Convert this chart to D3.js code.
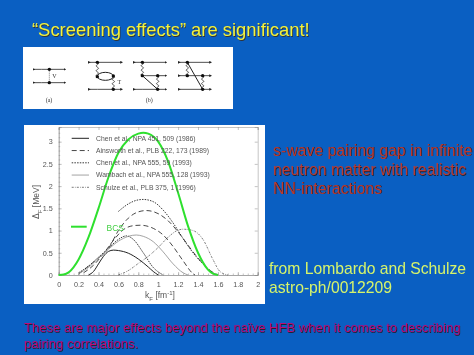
<!DOCTYPE html>
<html>
<head>
<meta charset="utf-8">
<script src="https://cdn.jsdelivr.net/npm/d3@7"></script>
<style>
html, body { margin: 0; padding: 0; background: #0a5fc2; overflow: hidden; }
svg { display: block; font-family: "Liberation Sans", Arial, sans-serif; }
</style>
</head>
<body>
<div id="chart"></div>
<script>
// Slide with a pairing-gap plot
const xTicks = [0, 0.2, 0.4, 0.6, 0.8, 1, 1.2, 1.4, 1.6, 1.8, 2];
const yTicks = [0, 0.5, 1, 1.5, 2, 2.5, 3];

const legendLabels = [
    'Chen et al., NPA 451, 509 (1986)',
    'Ainsworth et al., PLB 222, 173 (1989)',
    'Chen et al., NPA 555, 59 (1993)',
    'Wambach et al., NPA 555, 128 (1993)',
    'Schulze et al., PLB 375, 1 (1996)'
];

const bcs = [[0,0],[0.05,0.01],[0.1,0.06],[0.2,0.35],[0.3,0.85],[0.4,1.5],[0.5,2.2],[0.6,2.75],[0.7,3.05],[0.8,3.18],[0.85,3.2],[0.9,3.18],[1,3],[1.1,2.55],[1.2,1.85],[1.3,1.1],[1.4,0.5],[1.5,0.12],[1.55,0.03],[1.6,0]];
const chen86 = [[0.3,0],[0.35,0.08],[0.4,0.25],[0.45,0.42],[0.5,0.53],[0.55,0.56],[0.6,0.55],[0.7,0.49],[0.8,0.36],[0.9,0.18],[0.95,0.08],[1,0]];
const ainsworthA = [[0.2,0.02],[0.3,0.2],[0.4,0.38],[0.5,0.6],[0.6,1],[0.7,1.28],[0.8,1.42],[0.88,1.45],[1,1.38],[1.1,1.22],[1.2,0.97],[1.3,0.67],[1.4,0.38],[1.5,0.14],[1.6,0]];
const ainsworthB = [[0.25,0.05],[0.35,0.22],[0.45,0.48],[0.55,0.78],[0.65,1.02],[0.75,1.11],[0.82,1.12],[0.95,1.05],[1.05,0.9],[1.15,0.64],[1.25,0.32],[1.35,0.03],[1.37,0]];
const chen93 = [[0.6,1.43],[0.7,1.6],[0.8,1.69],[0.85,1.7],[0.95,1.65],[1.05,1.46],[1.15,1.17],[1.25,0.82],[1.35,0.5],[1.45,0.25],[1.55,0.05],[1.6,0]];
const chen93Small = [[0.2,0.05],[0.3,0.2],[0.4,0.4],[0.5,0.6],[0.6,0.8],[0.68,0.88],[0.75,0.8],[0.85,0.5],[0.95,0.17],[1.05,0]];
const wambach = [[0.2,0.03],[0.3,0.17],[0.4,0.38],[0.5,0.58],[0.6,0.76],[0.7,0.87],[0.78,0.9],[0.85,0.87],[0.95,0.75],[1.05,0.52],[1.15,0.25],[1.25,0.05],[1.3,0]];
const schulze = [[0.6,0],[0.7,0.1],[0.8,0.26],[0.9,0.42],[1,0.62],[1.1,0.85],[1.2,1.01],[1.25,1.03],[1.35,1],[1.45,0.8],[1.55,0.35],[1.62,0.08],[1.7,0]];

// Feynman diagrams, in units of the crop they were read from
const arrowLines = [[42,88,135,88],[42,128,135,128],[208,67,305,67],[208,148,305,148],[343,67,438,67],[367,107,438,107],[343,148,438,148],[478,67,572,67],[478,107,572,107],[478,148,572,148]];
const wavyLines = [[232,67,232,110],[280,108,280,148],[367,67,367,107],[413,107,413,148],[502,67,502,107],[548,107,548,148]];
const plainLines = [[367,107,413,148],[502,67,548,148]];
const vertices = [[88,88],[88,128],[232,67],[232,110],[280,108],[280,148],[367,67],[367,107],[413,107],[413,148],[502,67],[502,107],[548,107],[548,148]];

const width = 474, height = 355;
const svg = d3.select('#chart').append('svg').attr('width', width).attr('height', height);

const defs = svg.append('defs');
defs.append('filter').attr('id', 'soft').append('feGaussianBlur').attr('stdDeviation', 0.4);
defs.append('marker').attr('id', 'arrow').attr('viewBox', '0 0 6 6').attr('refX', 3).attr('refY', 3)
    .attr('markerWidth', 3.5).attr('markerHeight', 3.5).attr('orient', 'auto')
    .append('path').attr('d', 'M0,0L6,3L0,6Z').attr('fill', '#222');

const slide = svg.append('g').attr('filter', 'url(#soft)');

// ---- panels ----
slide.append('rect').attr('x', 23).attr('y', 47).attr('width', 210).attr('height', 62).attr('fill', '#fff');
slide.append('rect').attr('x', 24).attr('y', 125).attr('width', 241).attr('height', 179).attr('fill', '#fff');

// ---- diagrams ----
const dx = d3.scaleLinear().domain([0, 660]).range([20, 240]);
const dy = d3.scaleLinear().domain([0, 225]).range([40, 115]);
const diagram = slide.append('g');

function wavy(s) {
    const steps = 24, pts = [];
    for (let i = 0; i <= steps; i++) {
        const t = i / steps;
        pts.push([s[0] + 4 * Math.sin(t * Math.PI * 6), s[1] + (s[3] - s[1]) * t]);
    }
    return d3.line().x(d => dx(d[0])).y(d => dy(d[1])).curve(d3.curveBasis)(pts);
}

diagram.selectAll('.arrow-line').data(arrowLines).enter().append('path')
    .attr('d', d => `M${dx(d[0])},${dy(d[1])}L${dx((d[0] + d[2]) / 2 - 24)},${dy(d[1])}L${dx(d[2])},${dy(d[3])}`)
    .attr('stroke', '#222').attr('stroke-width', 0.8).attr('fill', 'none')
    .attr('marker-start', 'url(#arrow)').attr('marker-end', 'url(#arrow)');
diagram.selectAll('.wavy').data(wavyLines).enter().append('path')
    .attr('d', wavy).attr('stroke', '#333').attr('stroke-width', 0.8).attr('fill', 'none');
diagram.selectAll('.plain').data(plainLines).enter().append('line')
    .attr('x1', d => dx(d[0])).attr('y1', d => dy(d[1])).attr('x2', d => dx(d[2])).attr('y2', d => dy(d[3]))
    .attr('stroke', '#222').attr('stroke-width', 1);
diagram.append('ellipse').attr('cx', dx(256)).attr('cy', dy(109)).attr('rx', dx(24) - dx(0)).attr('ry', dy(12) - dy(0))
    .attr('fill', 'none').attr('stroke', '#222').attr('stroke-width', 1);
diagram.append('line').attr('x1', dx(88)).attr('y1', dy(88)).attr('x2', dx(88)).attr('y2', dy(128))
    .attr('stroke', '#444').attr('stroke-width', 0.7).attr('stroke-dasharray', '1,1');
diagram.selectAll('circle').data(vertices).enter().append('circle')
    .attr('cx', d => dx(d[0])).attr('cy', d => dy(d[1])).attr('r', 1.7).attr('fill', '#111');

[['V', 103, 114], ['T', 298, 132], ['(a)', 87, 186], ['(b)', 388, 186]].forEach(t => {
    diagram.append('text').attr('x', dx(t[1])).attr('y', dy(t[2])).attr('text-anchor', 'middle')
        .attr('font-family', '"Liberation Serif", serif').attr('font-size', 6).attr('fill', '#333').text(t[0]);
});

// ---- plot ----
const x = d3.scaleLinear().domain([0, 2]).range([58.7, 257.7]);
const y = d3.scaleLinear().domain([0, 3.33]).range([275, 127]);
const plot = slide.append('g');

const xMinor = d3.range(0, 2.001, 0.05);
const yMinor = d3.range(0, 3.33, 0.1);

function styleAxis(g) {
    g.selectAll('path,line').attr('stroke', '#888').attr('stroke-width', 0.5);
    g.selectAll('text').attr('fill', '#555').attr('font-size', 7.2).attr('font-family', '"Liberation Sans", sans-serif');
}

plot.append('g').attr('transform', `translate(0,${y(0)})`)
    .call(d3.axisBottom(x).tickValues(xTicks).tickFormat(d3.format('')).tickSize(-3).tickPadding(7))
    .call(styleAxis);
plot.append('g').attr('transform', `translate(0,${y(0)})`)
    .call(d3.axisBottom(x).tickValues(xMinor).tickFormat('').tickSize(-1.5)).call(styleAxis);
plot.append('g').attr('transform', `translate(${x(0)},0)`)
    .call(d3.axisLeft(y).tickValues(yTicks).tickFormat(d3.format('')).tickSize(-3).tickPadding(6))
    .call(styleAxis);
plot.append('g').attr('transform', `translate(${x(0)},0)`)
    .call(d3.axisLeft(y).tickValues(yMinor).tickFormat('').tickSize(-1.5)).call(styleAxis);
plot.append('g').attr('transform', `translate(0,${y.range()[1]})`)
    .call(d3.axisTop(x).tickValues(xTicks).tickFormat('').tickSize(-3)).call(styleAxis);
plot.append('g').attr('transform', `translate(${x(2)},0)`)
    .call(d3.axisRight(y).tickValues(yTicks).tickFormat('').tickSize(-3)).call(styleAxis);

const line = d3.line().x(d => x(d[0])).y(d => y(d[1])).curve(d3.curveMonotoneX);

const curves = [
    { data: chen86, color: '#222', w: 1, dash: null },
    { data: ainsworthA, color: '#333', w: 0.9, dash: '5,3' },
    { data: ainsworthB, color: '#333', w: 0.9, dash: '5,3' },
    { data: chen93, color: '#222', w: 0.9, dash: '1.5,1.2' },
    { data: chen93Small, color: '#222', w: 0.9, dash: '1.5,1' },
    { data: wambach, color: '#999', w: 0.9, dash: null },
    { data: schulze, color: '#444', w: 0.7, dash: '2,1.2,0.7,1.2' }
];

plot.selectAll('.curve').data(curves).enter().append('path')
    .attr('d', d => line(d.data)).attr('fill', 'none')
    .attr('stroke', d => d.color).attr('stroke-width', d => d.w).attr('stroke-dasharray', d => d.dash);

plot.append('path').attr('d', line(bcs)).attr('fill', 'none').attr('stroke', '#2ee02e').attr('stroke-width', 2);

// ---- legend ----
const legendRow = d3.scalePoint().domain(d3.range(legendLabels.length)).range([138.3, 187.3]);
const legendStyle = [curves[0], curves[1], curves[3], curves[5], curves[6]];
legendLabels.forEach((label, i) => {
    plot.append('line').attr('x1', 71.7).attr('x2', 89).attr('y1', legendRow(i)).attr('y2', legendRow(i))
        .attr('stroke', legendStyle[i].color).attr('stroke-width', legendStyle[i].w)
        .attr('stroke-dasharray', legendStyle[i].dash);
    plot.append('text').attr('x', 96).attr('y', legendRow(i) + 2.4)
        .attr('font-size', 6.8).attr('fill', '#555').text(label);
});
plot.append('line').attr('x1', 71).attr('x2', 86.7).attr('y1', 226.7).attr('y2', 226.7)
    .attr('stroke', '#2ee02e').attr('stroke-width', 2);
plot.append('text').attr('x', 106.5).attr('y', 230.5).attr('font-size', 8.5).attr('fill', '#44d044').text('BCS');

// axis titles
const yTitle = plot.append('text').attr('transform', 'translate(39,202) rotate(-90)')
    .attr('text-anchor', 'middle').attr('font-size', 8.5).attr('fill', '#555');
yTitle.append('tspan').attr('font-family', '"DejaVu Sans", sans-serif').text('Δ');
yTitle.append('tspan').attr('baseline-shift', 'sub').attr('font-size', 6).text('F');
yTitle.append('tspan').text(' [MeV]');

const xTitle = plot.append('text').attr('x', 160).attr('y', 298)
    .attr('text-anchor', 'middle').attr('font-size', 8.5).attr('fill', '#555');
xTitle.append('tspan').text('k');
xTitle.append('tspan').attr('baseline-shift', 'sub').attr('font-size', 6).text('F');
xTitle.append('tspan').text(' [fm');
xTitle.append('tspan').attr('baseline-shift', 'super').attr('font-size', 6).text('-1');
xTitle.append('tspan').text(']');

// ---- slide text ----
function slideText(str, px, py, size, color, shadow) {
    if (shadow) {
        slide.append('text').attr('x', px + 0.7).attr('y', py + 0.7).attr('font-size', size).attr('fill', shadow).text(str);
    }
    slide.append('text').attr('x', px).attr('y', py).attr('font-size', size).attr('fill', color).text(str);
}

slideText('“Screening effects” are significant!', 32, 36, 18.4, '#f2f23c', '#333');
slideText('s-wave pairing gap in infinite', 273, 155.5, 15.8, '#bc3a30', '#223');
slideText('neutron matter with realistic', 273, 175, 15.8, '#bc3a30', '#223');
slideText('NN-interactions', 273, 193.5, 15.8, '#bc3a30', '#223');
slideText('from Lombardo and Schulze', 269, 274, 15.7, '#d6f46a', null);
slideText('astro-ph/0012209', 269, 293, 15.7, '#d6f46a', null);
slideText('These are major effects beyond the naïve HFB when it comes to describing', 24, 332, 13.1, '#bc0878', '#223');
slideText('pairing correlations.', 24, 348, 13.1, '#bc0878', '#223');
</script>
</body>
</html>
